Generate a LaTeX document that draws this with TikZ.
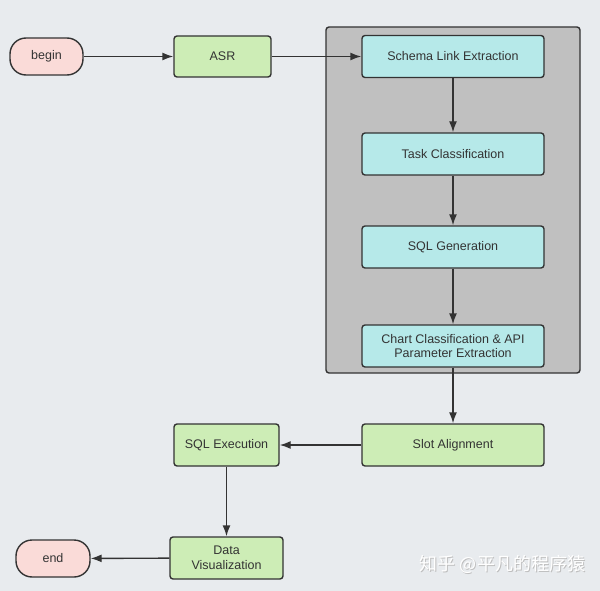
\documentclass[tikz,border=0pt]{standalone}
\usepackage{fontspec}
\setmainfont{Liberation Sans}
\newfontfamily\cjk{Noto Sans CJK SC}
\usetikzlibrary{arrows.meta}
\definecolor{bgc}{HTML}{E8EBEE}
\definecolor{pinkc}{HTML}{FADBD8}
\definecolor{greenc}{HTML}{CDEDB6}
\definecolor{cyanc}{HTML}{B6E9E9}
\definecolor{grayc}{HTML}{C0C0C0}
\definecolor{linec}{HTML}{333333}
\definecolor{txtc}{HTML}{333333}
\begin{document}
\begin{tikzpicture}[x=1pt,y=-1pt,
  every node/.style={font=\fontsize{12.5}{14.5}\selectfont, text=txtc},
  box/.style={draw=linec, line width=1.4pt, rounded corners=3pt, inner sep=0pt, align=center},
  greenbox/.style={box, fill=greenc},
  cyanbox/.style={box, fill=cyanc, minimum width=182pt, minimum height=42pt},
  term/.style={draw=linec, line width=1.4pt, fill=pinkc, rounded corners=16pt, inner sep=0pt, minimum height=37pt},
  conn/.style={draw=linec, line width=1.4pt, -{Latex[length=11pt,width=8pt]}}]
\fill[bgc] (0,0) rectangle (600,591);
\useasboundingbox (0,0) rectangle (600,591);
\node[draw=linec, line width=1.4pt, fill=grayc, rounded corners=3pt, minimum width=254pt, minimum height=346pt, inner sep=0pt] (grp) at (453,200) {};
\node[term, minimum width=73pt] (begin) at (46.5,56.5) {begin};
\node[greenbox, minimum width=97pt, minimum height=41pt] (asr) at (222.5,56.5) {ASR};
\node[cyanbox] (sle) at (453,56.5) {Schema Link Extraction};
\node[cyanbox] (tc) at (453,154) {Task Classification};
\node[cyanbox] (sg) at (453,247) {SQL Generation};
\node[cyanbox] (cc) at (453,346) {Chart Classification \& API\\Parameter Extraction};
\node[greenbox, minimum width=182pt, minimum height=42pt] (sa) at (453,445) {Slot Alignment};
\node[greenbox, minimum width=105pt, minimum height=42pt] (se) at (226.5,445) {SQL Execution};
\node[greenbox, minimum width=113pt, minimum height=42pt] (dv) at (226.5,558) {Data\\Visualization};
\node[term, minimum width=74pt] (end) at (53,558.5) {end};
\draw[conn] (begin) -- (asr);
\draw[conn] (asr) -- (sle);
\draw[conn] (sle) -- (tc);
\draw[conn] (tc) -- (sg);
\draw[conn] (sg) -- (cc);
\draw[conn] (cc) -- (sa);
\draw[conn] (sa) -- (se);
\draw[conn] (se) -- (dv);
\draw[conn] (dv) -- (end);
\node[font=\cjk\fontsize{18}{20}\selectfont, text=gray!50, anchor=center] at (503.5,565) {知乎 @平凡的程序猿};
\node[font=\cjk\fontsize{18}{20}\selectfont, text=white, anchor=center] (wm) at (502.5,564) {知乎 @平凡的程序猿};
\end{tikzpicture}
\end{document}
